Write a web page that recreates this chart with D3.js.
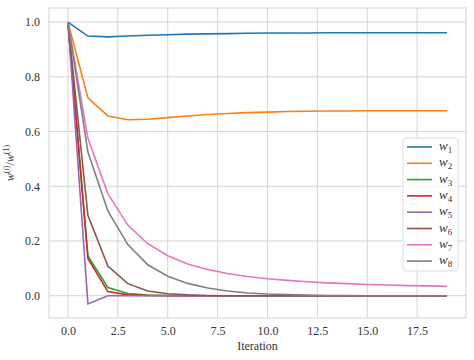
<!DOCTYPE html>
<html>
<head>
<meta charset="utf-8">
<script src="https://cdn.jsdelivr.net/npm/d3@7"></script>
<style>
  body { margin: 0; background: #fff; }
  svg text { font-family: 'Liberation Serif', 'DejaVu Serif', serif !important; }
</style>
</head>
<body>
<div id="chart"></div>
<script>
// iterations and normalized weights w(i)/w(1)
var iterations = d3.range(0, 20);
var w1 = [1.0, 0.949, 0.946, 0.949, 0.952, 0.954, 0.956, 0.957, 0.958, 0.959, 0.960, 0.960, 0.960, 0.961, 0.961, 0.961, 0.961, 0.961, 0.961, 0.961];
var w2 = [1.0, 0.723, 0.657, 0.643, 0.645, 0.651, 0.657, 0.662, 0.666, 0.669, 0.671, 0.673, 0.674, 0.675, 0.675, 0.676, 0.676, 0.676, 0.676, 0.676];
var w3 = [1.0, 0.145, 0.030, 0.008, 0.002, 0.001, 0, 0, 0, 0, 0, 0, 0, 0, 0, 0, 0, 0, 0, 0];
var w4 = [1.0, 0.136, 0.015, 0.003, 0.001, 0, 0, 0, 0, 0, 0, 0, 0, 0, 0, 0, 0, 0, 0, 0];
var w5 = [1.0, -0.030, 0.0, 0, 0, 0, 0, 0, 0, 0, 0, 0, 0, 0, 0, 0, 0, 0, 0, 0];
var w6 = [1.0, 0.294, 0.108, 0.044, 0.017, 0.007, 0.003, 0.001, 0, 0, 0, 0, 0, 0, 0, 0, 0, 0, 0, 0];
var w7 = [1.0, 0.575, 0.373, 0.258, 0.190, 0.146, 0.116, 0.096, 0.081, 0.070, 0.062, 0.056, 0.051, 0.047, 0.044, 0.041, 0.039, 0.037, 0.036, 0.034];
var w8 = [1.0, 0.525, 0.310, 0.187, 0.113, 0.071, 0.045, 0.028, 0.017, 0.010, 0.006, 0.004, 0.002, 0.001, 0.001, 0, 0, 0, 0, 0];
var seriesNames = ["1", "2", "3", "4", "5", "6", "7", "8"];
var seriesValues = [w1, w2, w3, w4, w5, w6, w7, w8];
var colors = ["#1f77b4", "#ff7f0e", "#2ca02c", "#d62728", "#9467bd", "#8c564b", "#e377c2", "#7f7f7f"];
var xTicks = [0, 2.5, 5, 7.5, 10, 12.5, 15, 17.5];
var yTicks = [0, 0.2, 0.4, 0.6, 0.8, 1.0];

var margin = {top: 8, right: 8, bottom: 42, left: 49},
    width = 474 - margin.left - margin.right,
    height = 360 - margin.top - margin.bottom;

var svg = d3.select("#chart")
  .append("svg")
    .attr("width", 474)
    .attr("height", 360)
  .append("g")
    .attr("transform", "translate(" + margin.left + "," + margin.top + ")");

var x = d3.scaleLinear().domain([-0.95, 19.95]).range([0, width]);
var y = d3.scaleLinear().domain([-0.0815, 1.0515]).range([height, 0]);

// grid
svg.append("g").selectAll("line").data(xTicks).enter().append("line")
  .attr("x1", d => x(d)).attr("x2", d => x(d))
  .attr("y1", 0).attr("y2", height)
  .attr("stroke", "#d5d5d5").attr("stroke-width", 1);
svg.append("g").selectAll("line").data(yTicks).enter().append("line")
  .attr("y1", d => y(d)).attr("y2", d => y(d))
  .attr("x1", 0).attr("x2", width)
  .attr("stroke", "#d5d5d5").attr("stroke-width", 1);

// frame
svg.append("rect")
  .attr("width", width).attr("height", height)
  .attr("fill", "none").attr("stroke", "#d5d5d5").attr("stroke-width", 1);

// axes (labels only)
var xAxis = svg.append("g")
  .attr("transform", "translate(0," + height + ")")
  .call(d3.axisBottom(x).tickValues(xTicks).tickSize(0).tickPadding(8).tickFormat(d3.format(".1f")));
var yAxis = svg.append("g")
  .call(d3.axisLeft(y).tickValues(yTicks).tickSize(0).tickPadding(9).tickFormat(d3.format(".1f")));
[xAxis, yAxis].forEach(function(a) {
  a.select(".domain").remove();
  a.selectAll("text").attr("font-size", 12).attr("fill", "#333");
});

// lines
var line = d3.line()
  .x(function(d, i) { return x(iterations[i]); })
  .y(function(d) { return y(d); });
svg.append("g").selectAll("path").data(seriesValues).enter().append("path")
  .attr("fill", "none")
  .attr("stroke", (d, i) => colors[i])
  .attr("stroke-width", 1.6)
  .attr("d", line);

// axis titles
svg.append("text")
  .attr("x", width / 2).attr("y", height + 32)
  .attr("text-anchor", "middle").attr("font-size", 12).attr("fill", "#333")
  .text("Iteration");
var yl = svg.append("text")
  .attr("transform", "translate(-35," + (height / 2) + ") rotate(-90)")
  .attr("text-anchor", "middle").attr("font-size", 12).attr("fill", "#333");
yl.append("tspan").attr("font-style", "italic").text("w");
yl.append("tspan").attr("dy", -5).attr("font-size", 8).text("(");
yl.append("tspan").attr("font-size", 8).attr("font-style", "italic").text("i");
yl.append("tspan").attr("font-size", 8).text(")");
yl.append("tspan").attr("dy", 5).text("/");
yl.append("tspan").attr("font-style", "italic").text("w");
yl.append("tspan").attr("dy", -5).attr("font-size", 8).text("(1)");

// legend
var lg = svg.append("g").attr("transform", "translate(" + (403 - margin.left) + "," + (138 - margin.top) + ")");
lg.append("rect")
  .attr("width", 55).attr("height", 133).attr("rx", 3)
  .attr("fill", "#fff").attr("fill-opacity", 0.8)
  .attr("stroke", "#dddddd");
var items = lg.selectAll("g.item").data(seriesNames).enter().append("g")
  .attr("transform", (d, i) => "translate(0," + (9 + i * 16.3) + ")");
items.append("line")
  .attr("x1", 4).attr("x2", 29)
  .attr("stroke", (d, i) => colors[i]).attr("stroke-width", 1.6);
var lt = items.append("text")
  .attr("x", 36).attr("y", 3)
  .attr("font-size", 13).attr("fill", "#333");
lt.append("tspan").attr("font-style", "italic").text("w");
lt.append("tspan").attr("font-size", 9).attr("dy", 3).text(d => d);
</script>
</body>
</html>
